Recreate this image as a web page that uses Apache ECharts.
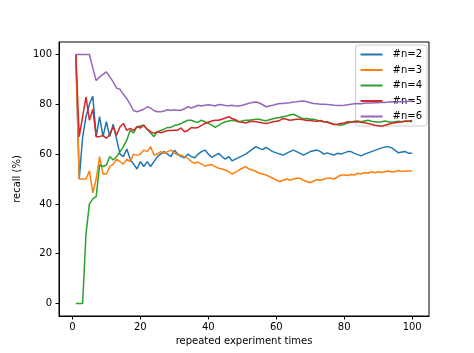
<!DOCTYPE html>
<html>
<head>
<meta charset="utf-8">
<script src="https://cdn.jsdelivr.net/npm/echarts@6/dist/echarts.min.js"></script>
<style>html,body{margin:0;padding:0;background:#fff;}#c{width:474px;height:353px;}</style>
</head>
<body>
<div id="c"></div>
<script>
const trials = [1,2,3,4,5,6,7,8,9,10,11,12,13,14,15,16,17,18,19,20,21,22,23,24,25,26,27,28,29,30,31,32,33,34,35,36,37,38,39,40,41,42,43,44,45,46,47,48,49,50,51,52,53,54,55,56,57,58,59,60,61,62,63,64,65,66,67,68,69,70,71,72,73,74,75,76,77,78,79,80,81,82,83,84,85,86,87,88,89,90,91,92,93,94,95,96,97,98,99,100];
const seriesNames = ['#n=2','#n=3','#n=4','#n=5','#n=6'];
const xTicks = [0,20,40,60,80,100];
const yTicks = [0,20,40,60,80,100];

const n2 = [100,50,66.7,75,80,83.3,67,75,67,73,67,72,66,60,59,62,58,56,54,57,55,57,55,57,59,60,61,60,59,61.5,60,59,58.5,60,59,58.5,60,61,61.6,60,58.7,59.5,60.3,59,58,59,57.3,58,58.7,59.3,60,61,62,63,62.3,61.8,62.7,61.8,61,60.5,60,59.6,60.3,61,61.6,61,60.3,59.6,60.3,61,61.3,61.6,61,60,60.5,60,59.6,60.3,60,60.5,61,61,60.3,59.8,59.3,60,60.5,61,61.5,62,62.5,62.8,63,62.5,61.5,60.5,60.8,61,60.3,60.3];
const n3 = [100,50,50,50,53.3,44.4,50,59,52,52,55,56,58,57,56,58,57,60,59.5,60,61.6,61,63,59.6,60,61,60.3,61,61.6,60.5,59.6,59.5,59,58.3,57,56.3,56.8,56,55.2,55.5,55.8,55,54.3,54,53.6,53,52,52.8,53.6,54.3,55,54,53.6,53,52.3,52,51.6,51,50.3,49.6,49,49.5,50,49.6,49.9,50.3,50.3,49.5,49,48.5,49.2,49.8,49.5,50,50.3,50.3,50,50.8,51.6,51.6,51.4,51.8,51.6,52.3,52,52.6,52.3,52.9,52.5,52.9,52.6,52.9,53.2,52.8,53,53.4,53,53.2,53.2,53.2];
const n4 = [0,0,0,28,40,42,43,55.6,55,55.6,59,57.6,59,61,63,65.6,69.6,68.5,71,71.3,71.6,70,68.5,67,69,69.5,70,70.7,70.7,71.5,71.8,72.3,73,73.6,73.6,73,72.8,73.6,73,72.3,71.6,70.7,71.5,72.3,73,73.3,73.6,73.3,73,73.3,73.6,73.6,73.8,74,74,73.6,73.4,73.8,74.2,74.5,74.7,75,75.3,75.7,76,75.4,74.7,74.2,74.3,74,74,73.6,73.3,73,73,72.5,72,71.8,71.6,72,72.5,72.8,73.2,73.3,73,73.3,73.6,73.2,73,72.8,73,73.3,73,72.8,73,73.2,73,73.3,73.2,73];
const n5 = [100,67,75,83,73.6,78,67,67,67.5,66.3,68,71,67.6,71,72.3,69.5,70.3,69.5,71,70.5,71.6,70,69,68.3,69,68.6,69,69.5,69.5,69.6,69.6,70.5,69,69.5,70.7,70.5,70.7,71.5,72.3,72.8,73.3,73.6,73.6,74,74.5,75,74.3,73.8,73,72.8,72.5,73,73.2,73,72.8,72.5,72.3,72.6,73,73.2,73.5,74.3,74,73.6,73.8,74,74,73.8,73.5,73.5,73.3,73.2,73.5,73,72.8,72.3,71.9,72,72.3,72.5,73,72.9,72.9,73,72.8,72.6,72.3,72,71.6,71.4,71.2,71.6,72,72.4,72.6,72.8,73,73.2,73.3,73.5];
const n6 = [100,100,100,100,100,94.5,89.5,91,92,93,91,89,86.5,86,84,82.3,80,77.5,77,77.5,78,79,78.5,77.5,77,77,77.3,77.8,77.5,77.8,77.6,77.6,78.2,79,78.5,79,79.6,79.3,79.6,79.8,79.6,79.3,79.9,79.8,79.5,79.4,79.6,79.3,79.3,79.6,80,80.4,80.7,80.9,80.5,79.8,79,79.3,79.6,80,80.3,80.3,80.5,80.6,80.9,81,81.2,81.3,81,80.6,80.3,80.2,80,80,79.9,79.8,79.6,79.5,79.5,79.6,79.8,80,80.2,80.3,80.2,80.4,80.5,80.5,80.6,80.6,80.8,80.7,80.9,81,80.8,81,81.1,81,81.2,81.3];

const colors = ['#1f77b4','#ff7f0e','#2ca02c','#d62728','#9467bd'];
const allData = [n2,n3,n4,n5,n6];
const FONT = 'DejaVu Sans';

const chart = echarts.init(document.getElementById('c'), null, {renderer:'canvas'});
chart.setOption({
  animation: false,
  backgroundColor: '#fff',
  color: colors,
  textStyle: {fontFamily: FONT},
  grid: {left:59, right:45, top:42, bottom:37, show:true, borderColor:'#000', borderWidth:1, backgroundColor:'transparent'},
  legend: {
    orient:'vertical', right:47, top:45,
    data: seriesNames,
    icon:'rect', itemWidth:22, itemHeight:2, itemGap:2.5,
    padding:[3,5,3,5],
    backgroundColor:'rgba(255,255,255,0.8)', borderColor:'#cccccc', borderWidth:1, borderRadius:3,
    textStyle:{fontFamily:FONT, fontSize:10, color:'#000', padding:[0,0,0,5], lineHeight:13}
  },
  xAxis: {
    type:'value', min:-3.95, max:104.95,
    name:'repeated experiment times', nameLocation:'middle', nameGap:20,
    nameTextStyle:{fontFamily:FONT, fontSize:10, color:'#000'},
    axisLine:{show:true, onZero:false, lineStyle:{color:'#000', width:1}},
    axisTick:{show:true, length:3.5, inside:false, customValues:xTicks, lineStyle:{color:'#000'}},
    axisLabel:{show:true, customValues:xTicks, margin:6, fontFamily:FONT, fontSize:10, color:'#000'},
    splitLine:{show:false}
  },
  yAxis: {
    type:'value', min:-5, max:105,
    name:'recall (%)', nameLocation:'middle', nameGap:25, nameRotate:90,
    nameTextStyle:{fontFamily:FONT, fontSize:10, color:'#000'},
    axisLine:{show:true, onZero:false, lineStyle:{color:'#000', width:1}},
    axisTick:{show:true, length:3.5, inside:false, customValues:yTicks, lineStyle:{color:'#000'}},
    axisLabel:{show:true, customValues:yTicks, margin:7, fontFamily:FONT, fontSize:10, color:'#000'},
    splitLine:{show:false}
  },
  series: seriesNames.map((nm, k) => ({
    name:nm, type:'line', showSymbol:false, symbol:'none',
    data: trials.map((t, i) => [t, allData[k][i]]),
    lineStyle:{width:1.5, color:colors[k]},
    itemStyle:{color:colors[k]},
    z: 2 + k
  }))
});
</script>
</body>
</html>
